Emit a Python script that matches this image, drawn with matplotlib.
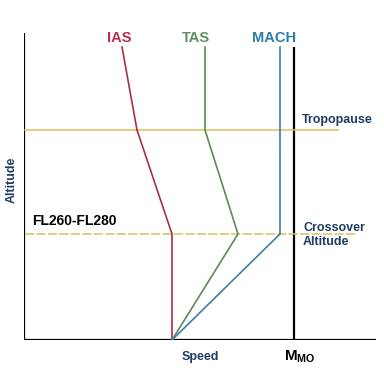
import matplotlib
matplotlib.use("Agg")
import matplotlib.pyplot as plt

# Data (arbitrary units: speed along x, altitude along y)
altitude = [0, 106, 210, 293]
ias = [148, 148, 113, 98]
tas = [148, 214, 181, 181]
mach = [148, 256, 256, 256]
mmo = 270
crossover_alt = 106
tropopause_alt = 210

series = [("IAS", ias, "#a82e48", "#b3304f"),
          ("TAS", tas, "#5a8c52", "#5b9160"),
          ("MACH", mach, "#3a80a2", "#2a7fa8")]
label_dx = [-3, -9, -6]

navy = "#1f3d63"
yellow = "#d9c25a"
plt.rcParams['font.family'] = ['Liberation Sans', 'DejaVu Sans']

fig = plt.figure(figsize=(3.84, 3.71), dpi=100)
ax = fig.add_axes([24/384, 31/371, 352/384, 307/371])
ax.set_xlim(0, 352)
ax.set_ylim(0, 307)
ax.axis('off')

# axes lines
ax.plot([0, 0], [0, 307], color='black', lw=1.6, solid_capstyle='butt')
ax.plot([0, 352], [0, 0], color='black', lw=1.6, solid_capstyle='butt')
ax.plot([mmo, mmo], [0, 293], color='black', lw=1.6, solid_capstyle='butt')

# reference altitudes
ax.plot([1, 314], [tropopause_alt, tropopause_alt], color=yellow, lw=1.1)
ax.plot([1, 332], [crossover_alt, crossover_alt], color=yellow, lw=1.1,
        dashes=(6, 1.5))

for (name, vals, lc, tc), dx in zip(series, label_dx):
    ax.plot(vals, altitude, color=lc, lw=1.2)
    ax.text(vals[-1] + dx, altitude[-1] + 2, name, color=tc, fontsize=10.5,
            fontweight='bold', ha='center', va='bottom')

ax.text(278, tropopause_alt + 4, "Tropopause", color=navy, fontsize=9,
        fontweight='bold', ha='left', va='bottom')
ax.text(279, crossover_alt - 1, "Crossover\nAltitude", color=navy, fontsize=9,
        fontweight='bold', ha='left', va='center', linespacing=1.25)
ax.text(8, crossover_alt + 6, "FL260-FL280", color='black', fontsize=10,
        fontweight='bold', ha='left', va='bottom')

fig.text(12/384, 1 - 180/371, "Altitude", color=navy, fontsize=9,
         fontweight='bold', rotation=90, ha='center', va='center')
fig.text(200/384, 1 - 357/371, "Speed", color=navy, fontsize=9,
         fontweight='bold', ha='center', va='center')
fig.text(284/384, 1 - 357/371, r"M$_{\mathregular{MO}}$", color='black',
         fontsize=11, fontweight='bold', ha='left', va='center')

fig.savefig("out.png", dpi=100, facecolor='white')
